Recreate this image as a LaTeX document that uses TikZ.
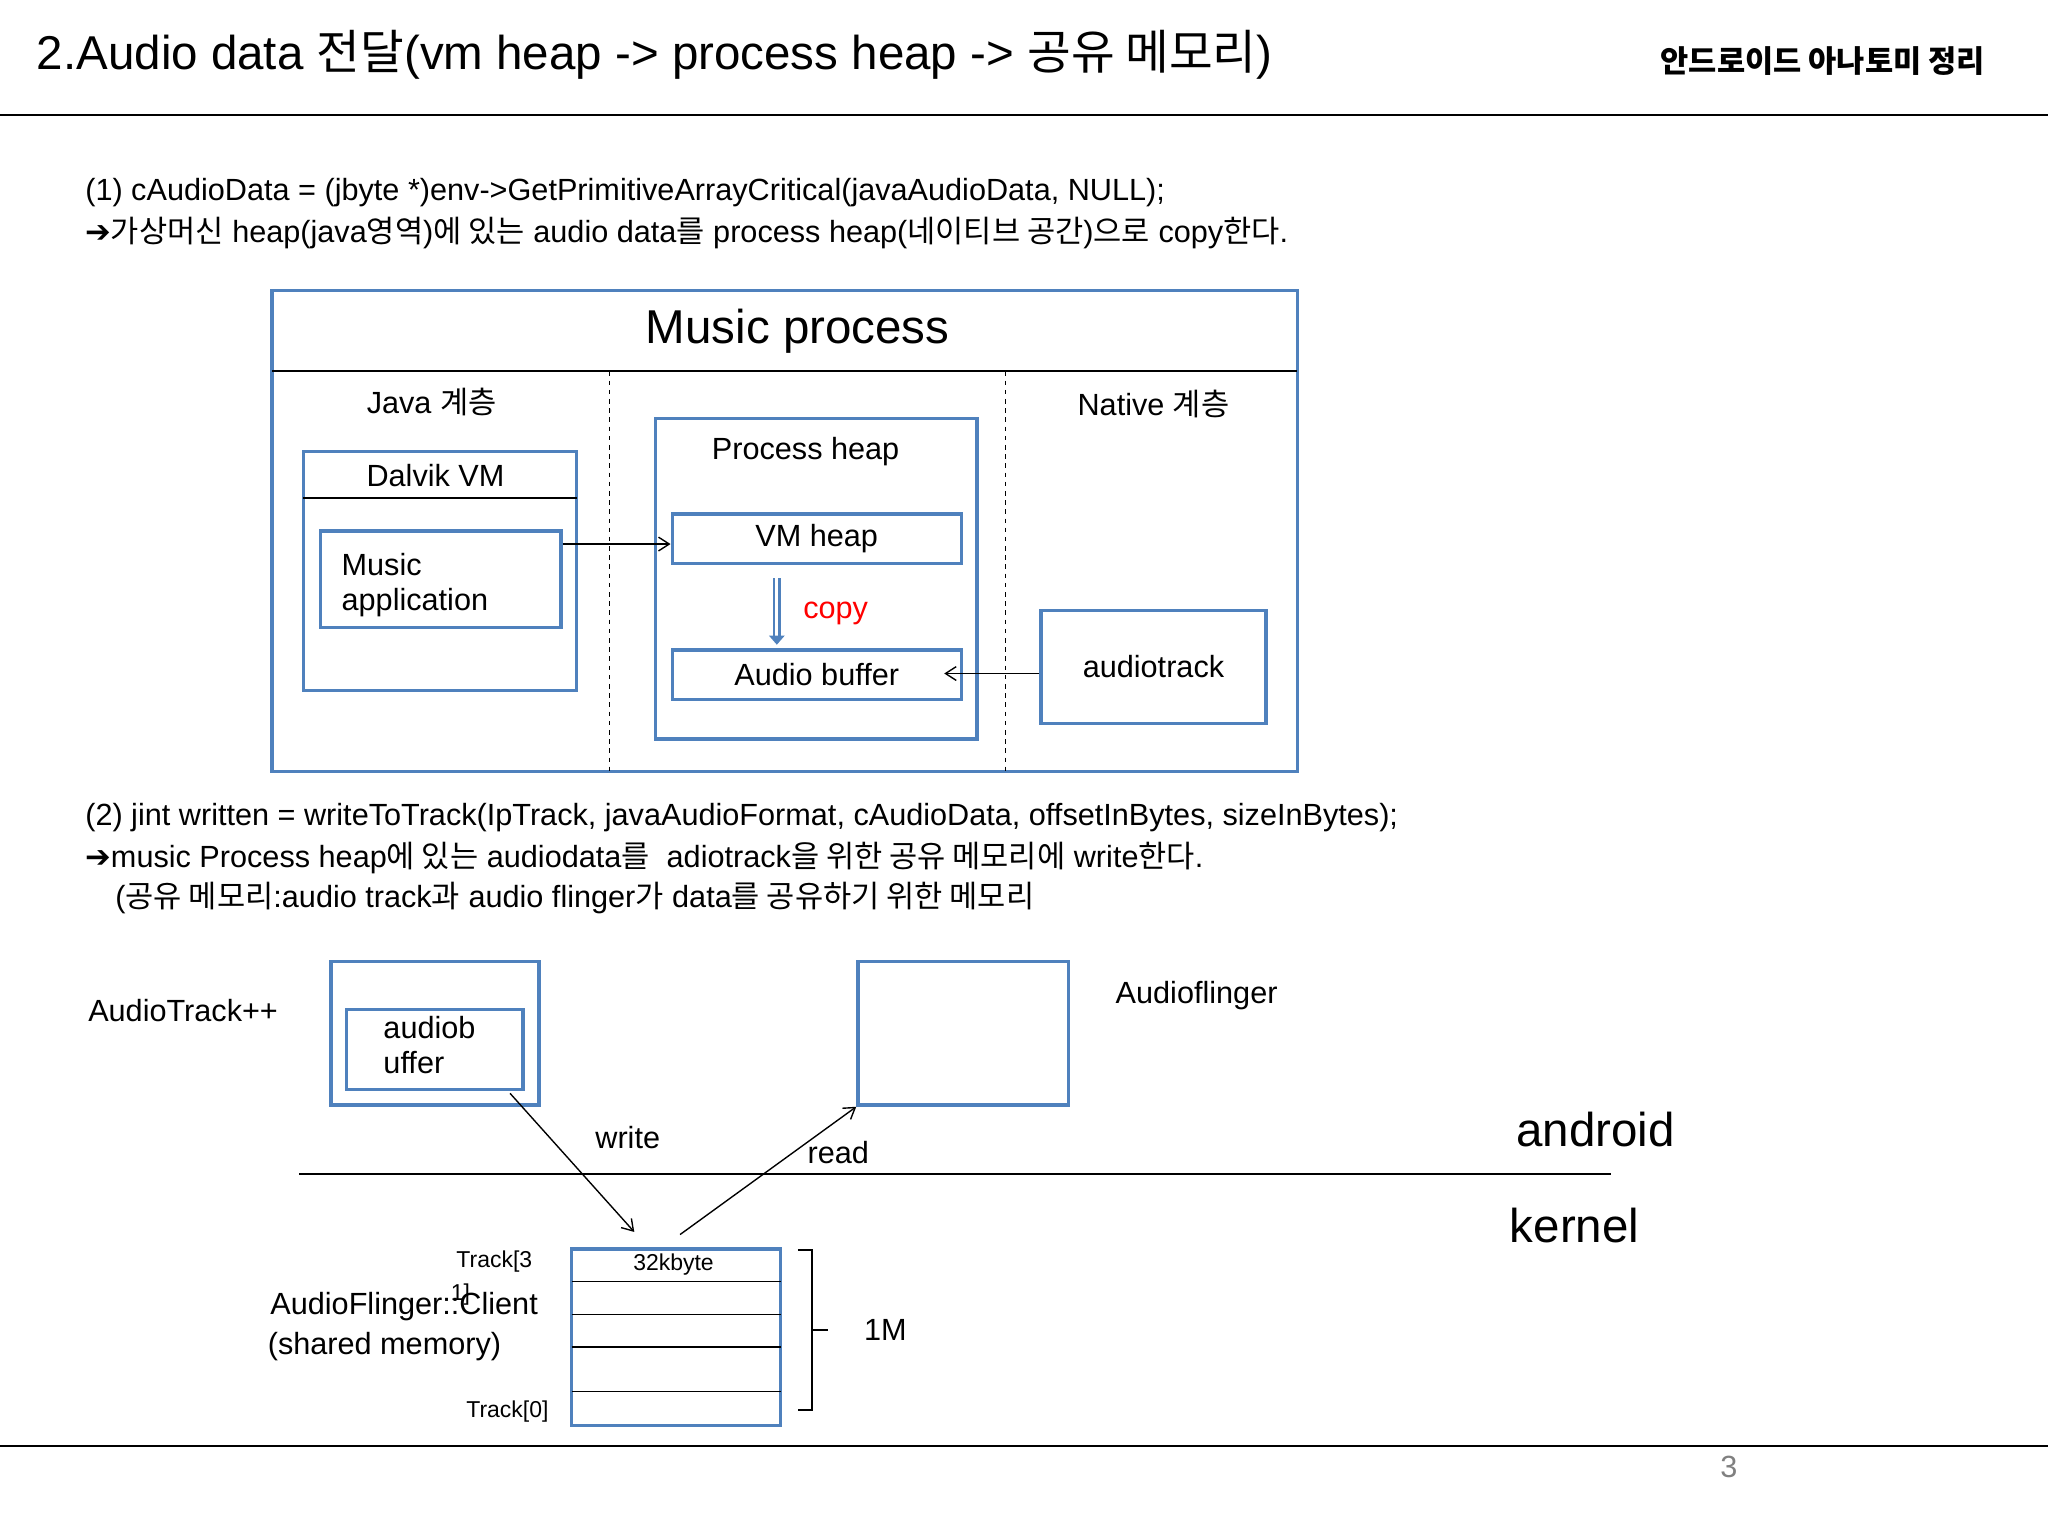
\documentclass[tikz,border=0pt]{standalone}
\usepackage{fontspec}
\setmainfont{Liberation Sans}
\newfontfamily\kr{Noto Sans CJK KR}
\newfontfamily\djvfont{DejaVu Sans}
\newcommand{\K}[1]{{\kr #1}}
\newcommand{\AR}{{\djvfont ➔}}
\usetikzlibrary{arrows.meta}
\definecolor{bl}{RGB}{79,129,189}
\begin{document}
\begin{tikzpicture}[x=0.03cm,y=-0.03cm,
  bx/.style={draw=bl,line width=2.2pt},
  t/.style={font=\fontsize{20}{24}\selectfont,inner sep=0pt},
  tl/.style={t,anchor=west},
  big/.style={font=\fontsize{31}{36}\selectfont,inner sep=0pt},
  sm/.style={font=\fontsize{15}{18}\selectfont,inner sep=0pt},
  ar/.style={-{Straight Barb[length=7pt,width=9pt]},line width=0.9pt}]
\useasboundingbox (0,0) rectangle (1566,1175);
\node[big,anchor=west] (title) at (28,42) {2.Audio data \K{전달}(vm heap -> process heap -> \K{공유 메모리})};
\node[anchor=east,inner sep=0pt,font=\kr\bfseries\fontsize{20}{24}\selectfont] (sub) at (1518,47) {안드로이드 아나토미 정리};
\draw[line width=1.3pt] (0,88) -- (1566,88);
\node[tl] (l1) at (65,147) {(1) cAudioData = (jbyte *)env->GetPrimitiveArrayCritical(javaAudioData, NULL);};
\node[tl] (l2) at (65,178) {\AR\K{가상머신} heap(java\K{영역})\K{에 있는} audio data\K{를} process heap(\K{네이티브 공간})\K{으로} copy\K{한다}.};
% music process
\draw[bx] (208,222) rectangle (992,590);
\draw[line width=1.2pt] (208,284) -- (992,284);
\draw[dashed,line width=1pt] (466,284) -- (466,590) (769,284) -- (769,590);
\node[big] (mp) at (610,253) {Music process};
\node[t] (java) at (330,307) {Java \K{계층}};
\node[t] (nat) at (882,309) {Native \K{계층}};
\draw[bx] (232,345) rectangle (441,528);
\draw[line width=1.2pt] (232,381) -- (441,381);
\node[t] (dvm) at (333,364) {Dalvik VM};
\node[bx,minimum width=184*0.03cm,minimum height=74*0.03cm] (app) at (337,443) {};
\node[tl] (appt) at (261,448) {\begin{tabular}{@{}l@{}}Music\\[-1pt]application\end{tabular}};
\draw[bx] (501,320) rectangle (747,565);
\node[t] (ph) at (616,345) {Process heap};
\node[bx,minimum width=221*0.03cm,minimum height=38*0.03cm,t,inner sep=0pt] (vm) at (624.5,412) {VM heap};
\node[bx,minimum width=221*0.03cm,minimum height=38*0.03cm,t,inner sep=0pt] (ab) at (624.5,516) {Audio buffer};
\node[bx,minimum width=172*0.03cm,minimum height=86*0.03cm,t,inner sep=0pt] (at) at (882,510) {audiotrack};
\draw[draw=bl,line width=1.5pt,double distance=2pt,-{Triangle[length=6pt,width=10pt]}] (594,442) -- (594,493);
\node[t,text=red] (copy) at (639,469) {copy};
\draw[ar] (app.east |- 0,416) -- (vm.west |- 0,416);
\draw[ar] (at.west |- 0,515) -- (722,515);
% (2)
\node[tl] (m1) at (65,625) {(2) jint written = writeToTrack(IpTrack, javaAudioFormat, cAudioData, offsetInBytes, sizeInBytes);};
\node[tl] (m2) at (65,656) {\AR music Process heap\K{에 있는} audiodata\K{를}\ \ adiotrack\K{을 위한 공유 메모리에} write\K{한다}.};
\node[tl] (m3) at (88,687) {(\K{공유 메모리}:audio track\K{과} audio flinger\K{가} data\K{를 공유하기 위한 메모리}};
% lower
\node[t] (atpp) at (140,773) {AudioTrack++};
\node[bx,minimum width=159*0.03cm,minimum height=110*0.03cm] (atb) at (332.5,790) {};
\node[bx,minimum width=135*0.03cm,minimum height=61*0.03cm] (aub) at (332.5,802.5) {};
\node[tl] (aubt) at (293,802) {\begin{tabular}{@{}l@{}}audiob\\[-1pt]uffer\end{tabular}};
\node[bx,minimum width=161*0.03cm,minimum height=110*0.03cm] (af) at (736.5,790) {};
\node[t] (aft) at (915,761) {Audioflinger};
\node[big] (andr) at (1220,864) {android};
\node[big] (kern) at (1204,937) {kernel};
\draw[line width=1.2pt] (229,898) -- (1232,898);
\node[bx,minimum width=160*0.03cm,minimum height=135*0.03cm] (sh) at (517,1022.5) {};
\draw[line width=1pt] (437,980) -- (597,980) (437,1005) -- (597,1005) (437,1030) -- (597,1030) (437,1064) -- (597,1064);
\node[sm] (k32) at (515,967) {32kbyte};
\coordinate (wa) at (390,836);
\coordinate (wb) at (485,942);
\coordinate (ra) at (520,944);
\draw[ar] (wa) -- (wb);
\draw[ar] (ra) -- (af.south west);
\node[t] (wr) at (480,870) {write};
\node[t] (rd) at (641,881) {read};
\node[sm] (t3) at (378,965) {Track[3};
\node[sm] (t31) at (352,990) {1]};
\node[sm] (t0) at (388,1079) {Track[0]};
\node[t] (afc) at (309,999) {AudioFlinger::Client};
\node[t] (shm) at (294,1030) {(shared memory)};
\coordinate (b1) at (610,956);
\coordinate (b2) at (610,1078);
\draw[line width=1pt] (b1) -- (621,956) -- (621,1078) -- (b2) (621,1017) -- (633,1017);
\node[t] (m1m) at (677,1017) {1M};
\draw[line width=1.3pt] (0,1106) -- (1566,1106);
\node[t,text=gray] (pg) at (1322,1122) {3};
\end{tikzpicture}
\end{document}
